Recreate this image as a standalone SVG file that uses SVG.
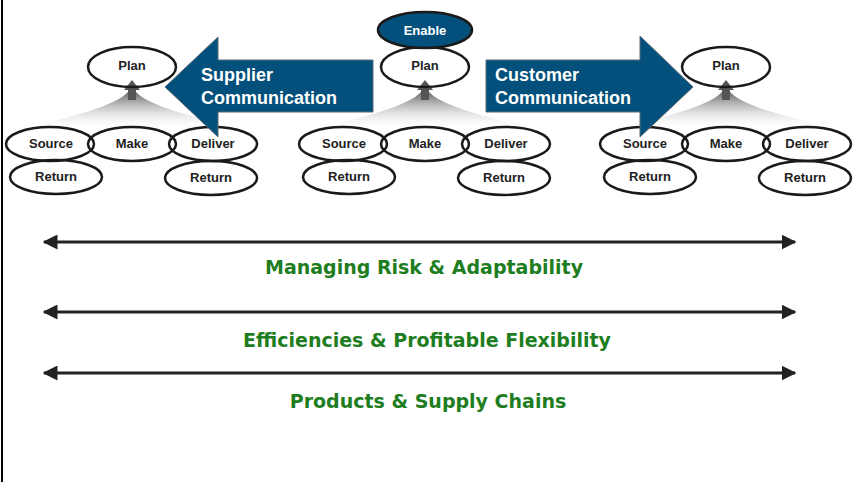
<svg xmlns="http://www.w3.org/2000/svg" width="857" height="482" viewBox="0 0 857 482">
<defs>
<style>
.e{fill:none;stroke:#1a1a1a;stroke-width:2.5}
.t{font-family:"Liberation Sans",Arial,sans-serif;font-weight:bold;font-size:13px;fill:#222;text-anchor:middle}
.big{font-family:"Liberation Sans",Arial,sans-serif;font-weight:bold;font-size:18px;fill:#fff}
.g{font-family:"DejaVu Sans",sans-serif;font-weight:bold;font-size:19px;fill:#1e7d1e;text-anchor:middle}
.ln{stroke:#222;stroke-width:3;fill:none}
</style>
<linearGradient id="fan" x1="0" y1="0" x2="0" y2="1">
<stop offset="0" stop-color="#666"/><stop offset="1" stop-color="#fff" stop-opacity="0"/>
</linearGradient>
<marker id="ah" viewBox="0 0 10 10" refX="9" refY="5" markerWidth="5" markerHeight="5" orient="auto-start-reverse">
<path d="M0,0L10,5L0,10z" fill="#222"/>
</marker>
<g id="cluster">
<path d="M-120,130 Q-20,110 -4,92 L4,92 Q20,110 120,130 Z" fill="url(#fan)"/>
<path d="M-4,100 L-4,90 L-8,90 L0,80 L8,90 L4,90 L4,100 Z" fill="#555"/>
<ellipse class="e" cx="0" cy="67" rx="44" ry="20" fill="#fff"/>
<ellipse class="e" cx="-82" cy="144" rx="44" ry="17"/>
<ellipse class="e" cx="0" cy="144" rx="44" ry="17"/>
<ellipse class="e" cx="81" cy="144" rx="44" ry="17"/>
<ellipse class="e" cx="-76" cy="177" rx="46" ry="17"/>
<ellipse class="e" cx="79" cy="178" rx="46" ry="17"/>
<text class="t" x="0" y="70">Plan</text>
<text class="t" x="-81" y="148">Source</text>
<text class="t" x="0" y="148">Make</text>
<text class="t" x="81" y="148">Deliver</text>
<text class="t" x="-76" y="181">Return</text>
<text class="t" x="79" y="182">Return</text>
</g>
</defs>
<rect width="857" height="482" fill="#fff"/>
<line x1="2" y1="0" x2="2" y2="482" stroke="#000" stroke-width="2"/>
<g id="group-left"><use href="#cluster" x="132"/></g>
<g id="group-mid"><use href="#cluster" x="425"/></g>
<g id="group-right"><use href="#cluster" x="726"/></g>
<g id="enable">
<ellipse cx="425" cy="30" rx="47" ry="18" fill="#03507c" stroke="#1a1a1a" stroke-width="2.5"/>
<text x="425" y="35" class="t" style="fill:#fff">Enable</text>
</g>
<g id="supplier">
<path d="M373,60 L218,60 L218,37 L165,87 L218,137 L218,112 L373,112 Z" fill="#03507c" stroke="#5a6a78" stroke-width="1"/>
<text class="big" x="201" y="81">Supplier</text>
<text class="big" x="201" y="104">Communication</text>
</g>
<g id="customer">
<path d="M486,60 L640,60 L640,36 L693,87 L640,137 L640,112 L486,112 Z" fill="#03507c" stroke="#5a6a78" stroke-width="1"/>
<text class="big" x="495" y="81">Customer</text>
<text class="big" x="495" y="104">Communication</text>
</g>
<g id="connectors">
<line class="ln" x1="44" y1="242" x2="795" y2="242" marker-start="url(#ah)" marker-end="url(#ah)"/>
<line class="ln" x1="44" y1="312" x2="795" y2="312" marker-start="url(#ah)" marker-end="url(#ah)"/>
<line class="ln" x1="44" y1="373" x2="795" y2="373" marker-start="url(#ah)" marker-end="url(#ah)"/>
</g>
<text class="g" x="424" y="274">Managing Risk &amp; Adaptability</text>
<text class="g" x="427" y="347">Efficiencies &amp; Profitable Flexibility</text>
<text class="g" x="428" y="408">Products &amp; Supply Chains</text>
</svg>
